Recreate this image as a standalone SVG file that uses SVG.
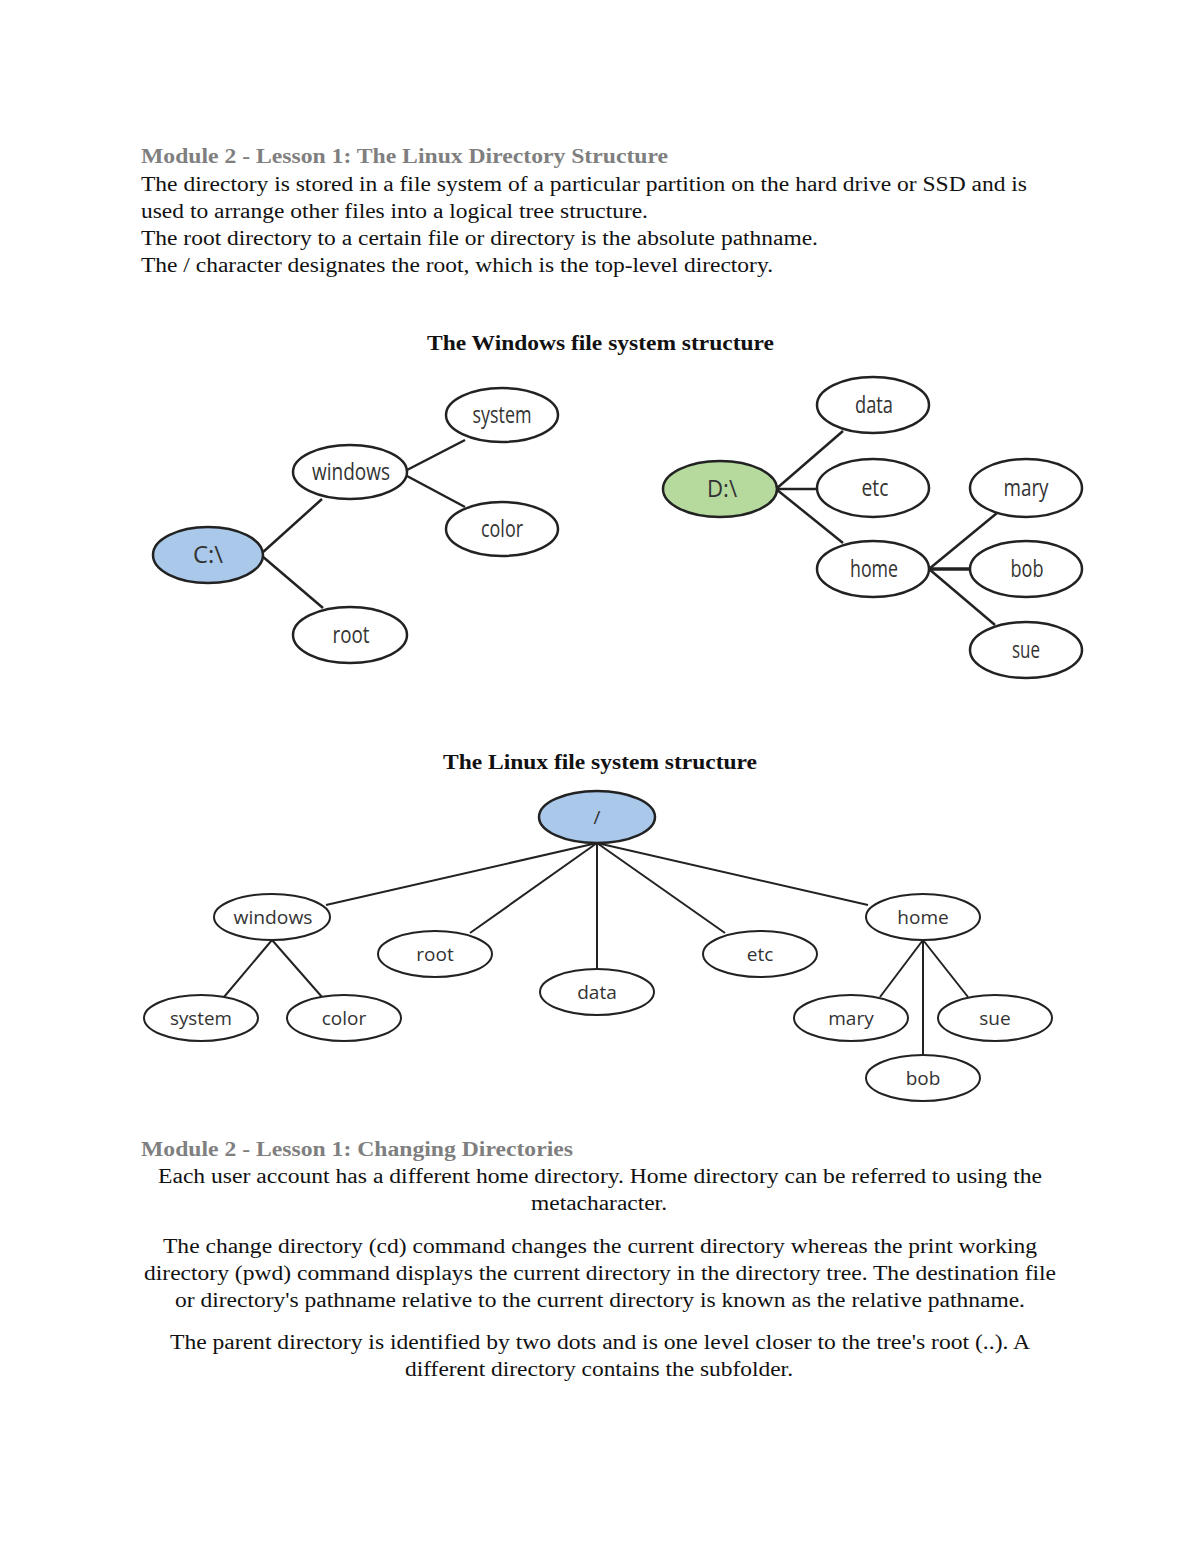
<svg xmlns="http://www.w3.org/2000/svg" width="1200" height="1553" viewBox="0 0 1200 1553">
<style>
.h{font-family:"Liberation Serif","DejaVu Serif",serif;font-weight:bold;font-size:20px;fill:#7f7f7f}
.b{font-family:"Liberation Serif","DejaVu Serif",serif;font-size:20px;fill:#111}
.t{font-family:"Liberation Serif","DejaVu Serif",serif;font-weight:bold;font-size:20px;fill:#111}
.n{fill:#fff;stroke:#222;stroke-width:2.5}
.lb{font-family:"Open Sans","Liberation Sans",sans-serif;font-size:23px;fill:#333;text-anchor:middle}
.ls{font-family:"Open Sans","Liberation Sans",sans-serif;font-size:19px;fill:#333;text-anchor:middle}
.c{stroke:#222;stroke-width:2.5;fill:none}
.c2{stroke:#222;stroke-width:2;fill:none}
</style>
<rect width="1200" height="1553" fill="#fff"/>
<g id="intro">
<text class="h" x="141" y="163" textLength="527" lengthAdjust="spacingAndGlyphs">Module 2 - Lesson 1: The Linux Directory Structure</text>
<text class="b" x="141" y="191" textLength="886" lengthAdjust="spacingAndGlyphs">The directory is stored in a file system of a particular partition on the hard drive or SSD and is</text>
<text class="b" x="141" y="218" textLength="507" lengthAdjust="spacingAndGlyphs">used to arrange other files into a logical tree structure.</text>
<text class="b" x="141" y="245" textLength="677" lengthAdjust="spacingAndGlyphs">The root directory to a certain file or directory is the absolute pathname.</text>
<text class="b" x="141" y="272" textLength="632" lengthAdjust="spacingAndGlyphs">The / character designates the root, which is the top-level directory.</text>
<text class="t" x="427" y="350" textLength="347" lengthAdjust="spacingAndGlyphs">The Windows file system structure</text>
</g>
<g id="connectors">
<line class="c" x1="262" y1="553" x2="322" y2="499"/>
<line class="c" x1="262" y1="556" x2="323" y2="608"/>
<line class="c" x1="407" y1="470" x2="465" y2="440"/>
<line class="c" x1="407" y1="476" x2="465" y2="507"/>
<line class="c" x1="776" y1="489" x2="843" y2="431"/>
<line class="c" x1="776" y1="489" x2="817" y2="489"/>
<line class="c" x1="776" y1="489" x2="843" y2="543"/>
<line class="c" x1="929" y1="569" x2="997" y2="513"/>
<line class="c" x1="929" y1="569" x2="970" y2="569" style="stroke-width:3.5"/>
<line class="c" x1="929" y1="569" x2="995" y2="625"/>
<line class="c2" x1="597" y1="843" x2="326" y2="905"/>
<line class="c2" x1="597" y1="843" x2="470" y2="933"/>
<line class="c2" x1="597" y1="843" x2="597" y2="969"/>
<line class="c2" x1="597" y1="843" x2="725" y2="933"/>
<line class="c2" x1="597" y1="843" x2="868" y2="905"/>
<line class="c2" x1="272" y1="940" x2="224" y2="997"/>
<line class="c2" x1="272" y1="940" x2="322" y2="997"/>
<line class="c2" x1="923" y1="940" x2="880" y2="997"/>
<line class="c2" x1="923" y1="940" x2="923" y2="1055"/>
<line class="c2" x1="923" y1="940" x2="968" y2="997"/>
</g>
<g id="win-c"><ellipse class="n" cx="208" cy="555" rx="55" ry="28" style="fill:#a9c8ea"/><text class="lb" x="208" y="563" textLength="30" lengthAdjust="spacingAndGlyphs">C:\</text></g>
<g id="win-windows"><ellipse class="n" cx="350" cy="472" rx="57" ry="27"/><text class="lb" x="351" y="480" textLength="78" lengthAdjust="spacingAndGlyphs">windows</text></g>
<g id="win-system"><ellipse class="n" cx="502" cy="415" rx="56" ry="27"/><text class="lb" x="502" y="423" textLength="59" lengthAdjust="spacingAndGlyphs">system</text></g>
<g id="win-color"><ellipse class="n" cx="502" cy="529" rx="56" ry="27"/><text class="lb" x="502" y="537" textLength="42" lengthAdjust="spacingAndGlyphs">color</text></g>
<g id="win-root"><ellipse class="n" cx="350" cy="635" rx="57" ry="28"/><text class="lb" x="351" y="643" textLength="37" lengthAdjust="spacingAndGlyphs">root</text></g>
<g id="d-d"><ellipse class="n" cx="720" cy="489" rx="57" ry="28" style="fill:#b6da9e"/><text class="lb" x="722" y="497" textLength="30" lengthAdjust="spacingAndGlyphs">D:\</text></g>
<g id="d-data"><ellipse class="n" cx="873" cy="405" rx="56" ry="28"/><text class="lb" x="874" y="413" textLength="38" lengthAdjust="spacingAndGlyphs">data</text></g>
<g id="d-etc"><ellipse class="n" cx="873" cy="488" rx="56" ry="29"/><text class="lb" x="875" y="496" textLength="27" lengthAdjust="spacingAndGlyphs">etc</text></g>
<g id="d-home"><ellipse class="n" cx="873" cy="569" rx="56" ry="28"/><text class="lb" x="874" y="577" textLength="48" lengthAdjust="spacingAndGlyphs">home</text></g>
<g id="d-mary"><ellipse class="n" cx="1026" cy="488" rx="56" ry="29"/><text class="lb" x="1026" y="496" textLength="45" lengthAdjust="spacingAndGlyphs">mary</text></g>
<g id="d-bob"><ellipse class="n" cx="1026" cy="569" rx="56" ry="28"/><text class="lb" x="1027" y="577" textLength="33" lengthAdjust="spacingAndGlyphs">bob</text></g>
<g id="d-sue"><ellipse class="n" cx="1026" cy="650" rx="56" ry="28"/><text class="lb" x="1026" y="658" textLength="28" lengthAdjust="spacingAndGlyphs">sue</text></g>
<g id="linux-title"><text class="t" x="443" y="769" textLength="314" lengthAdjust="spacingAndGlyphs">The Linux file system structure</text></g>
<g id="lx-root"><ellipse class="n" cx="597" cy="817" rx="58" ry="26" style="fill:#a9c8ea"/><text class="ls" x="597" y="824">/</text></g>
<g id="lx-windows"><ellipse class="n" cx="272" cy="917" rx="58" ry="23" style="stroke-width:2"/><text class="ls" x="273" y="924" textLength="79" lengthAdjust="spacingAndGlyphs">windows</text></g>
<g id="lx-rootdir"><ellipse class="n" cx="435" cy="954" rx="57" ry="23" style="stroke-width:2"/><text class="ls" x="435" y="961">root</text></g>
<g id="lx-data"><ellipse class="n" cx="597" cy="992" rx="57" ry="23" style="stroke-width:2"/><text class="ls" x="597" y="999">data</text></g>
<g id="lx-etc"><ellipse class="n" cx="760" cy="954" rx="57" ry="23" style="stroke-width:2"/><text class="ls" x="760" y="961">etc</text></g>
<g id="lx-home"><ellipse class="n" cx="923" cy="917" rx="57" ry="23" style="stroke-width:2"/><text class="ls" x="923" y="924">home</text></g>
<g id="lx-system"><ellipse class="n" cx="201" cy="1018" rx="57" ry="23" style="stroke-width:2"/><text class="ls" x="201" y="1025" textLength="62" lengthAdjust="spacingAndGlyphs">system</text></g>
<g id="lx-color"><ellipse class="n" cx="344" cy="1018" rx="57" ry="23" style="stroke-width:2"/><text class="ls" x="344" y="1025">color</text></g>
<g id="lx-mary"><ellipse class="n" cx="851" cy="1018" rx="57" ry="23" style="stroke-width:2"/><text class="ls" x="851" y="1025">mary</text></g>
<g id="lx-sue"><ellipse class="n" cx="995" cy="1018" rx="57" ry="23" style="stroke-width:2"/><text class="ls" x="995" y="1025">sue</text></g>
<g id="lx-bob"><ellipse class="n" cx="923" cy="1078" rx="57" ry="23" style="stroke-width:2"/><text class="ls" x="923" y="1085">bob</text></g>
<g id="outro">
<text class="h" x="141" y="1156" textLength="432" lengthAdjust="spacingAndGlyphs">Module 2 - Lesson 1: Changing Directories</text>
<text class="b" x="158" y="1183" textLength="884" lengthAdjust="spacingAndGlyphs">Each user account has a different home directory. Home directory can be referred to using the</text>
<text class="b" x="531" y="1210" textLength="136" lengthAdjust="spacingAndGlyphs">metacharacter.</text>
<text class="b" x="163" y="1253" textLength="874" lengthAdjust="spacingAndGlyphs">The change directory (cd) command changes the current directory whereas the print working</text>
<text class="b" x="144" y="1280" textLength="912" lengthAdjust="spacingAndGlyphs">directory (pwd) command displays the current directory in the directory tree. The destination file</text>
<text class="b" x="175" y="1307" textLength="850" lengthAdjust="spacingAndGlyphs">or directory's pathname relative to the current directory is known as the relative pathname.</text>
<text class="b" x="170" y="1349" textLength="860" lengthAdjust="spacingAndGlyphs">The parent directory is identified by two dots and is one level closer to the tree's root (..). A</text>
<text class="b" x="405" y="1376" textLength="388" lengthAdjust="spacingAndGlyphs">different directory contains the subfolder.</text>
</g>
</svg>
